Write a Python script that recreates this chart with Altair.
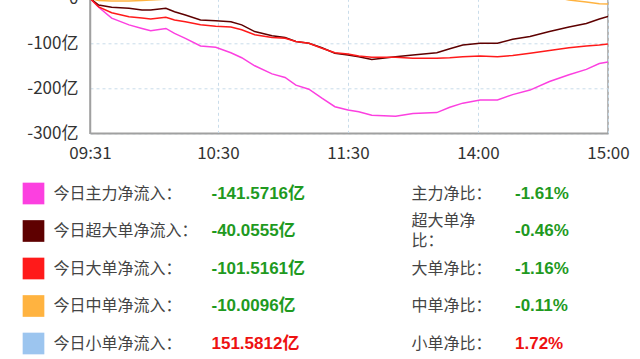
import altair as alt
import pandas as pd

# ---- data ----
minutes = [0, 4, 10, 18, 24, 28, 35, 39, 44, 51, 58, 65, 70, 76, 84, 90, 95, 101, 107,
           113, 119, 124, 130, 141, 149, 160, 166, 172, 180, 188, 195, 203, 212, 221,
           229, 235, 239]
main_flow = [0, -20, -44, -59, -67, -72, -67, -78, -89, -106, -109, -121, -132, -150, -168,
             -176, -193, -202, -222, -241, -248, -252, -260, -262, -256, -254, -242, -233,
             -226, -226, -214, -204, -185, -170, -158, -145, -141.6]
super_flow = [0, -15, -20, -22, -26, -26, -22, -30, -37, -48, -50, -52, -59, -74, -83, -87,
              -96, -100, -110, -122, -126, -130, -136, -130, -126, -121, -112, -104, -100,
              -100, -91, -85, -74, -64, -56, -46, -40.1]
large_flow = [0, -19, -32, -41, -44, -46, -42, -48, -52, -59, -62, -64, -70, -81, -87, -89,
              -96, -100, -111, -121, -124, -128, -131, -131, -133, -133, -132, -130, -128,
              -130, -127, -122, -116, -110, -106, -104, -101.5]
medium_flow = [0, -5, -6, -6, -5, -4, -2, 0, 3, 6, 10, 12, 14, 15, 16, 17, 18, 18, 18, 18,
               18, 18, 18, 18, 18, 18, 17, 16, 15, 14, 12, 10, 6, -4, -8, -12, -12.5]

tick_minutes = [0, 59, 119, 179, 239]
tick_labels = ["09:31", "10:30", "11:30", "14:00", "15:00"]
y_ticks = [-300, -200, -100, 0]

series_names = ["主力", "超大单", "大单", "中单", "小单"]
series_colors = ["#fc40e0", "#5e0000", "#ff1a1a", "#ffb340", "#9cc5ef"]

row_labels = ["今日主力净流入：", "今日超大单净流入：", "今日大单净流入：",
              "今日中单净流入：", "今日小单净流入："]
row_values = [-141.5716, -40.0555, -101.5161, -10.0096, 151.5812]
ratio_labels = ["主力净比：", "超大单净\n比：", "大单净比：", "中单净比：", "小单净比："]
ratio_values = [-1.61, -0.46, -1.16, -0.11, 1.72]

# ---- tables ----
line_rows = []
for name, vals in zip(series_names[:4], [main_flow, super_flow, large_flow, medium_flow]):
    for m, v in zip(minutes, vals):
        line_rows.append({"series": name, "minute": m, "value": v})
line_df = pd.DataFrame(line_rows)

table_df = pd.DataFrame({
    "row": list(range(5)),
    "series": series_names,
    "label": row_labels,
    "num": row_values,
    "rlabel": ratio_labels,
    "ratio": ratio_values,
})

GREEN = "#1f9a1f"
RED = "#ee1111"
CJK = "Noto Sans CJK SC"

label_expr = " : ".join(
    f"datum.value == {m} ? '{t}'" for m, t in zip(tick_minutes, tick_labels)
) + " : ''"

color_scale = alt.Scale(domain=series_names, range=series_colors)

lines = alt.Chart(line_df).mark_line(strokeWidth=1.5, clip=True).encode(
    x=alt.X("minute:Q", scale=alt.Scale(domain=[0, 239], nice=False, zero=False),
            axis=alt.Axis(values=tick_minutes, labelExpr=label_expr, title=None,
                          ticks=False, labelPadding=12, labelFontSize=17,
                          labelFont=CJK, labelColor="#333", domainColor="#a0a0a0",
                          domainWidth=1.5, gridColor="#c9dcea", gridDash=[3, 3],
                          labelOverlap=False, labelFlush=False)),
    y=alt.Y("value:Q", scale=alt.Scale(domain=[-300, 0], nice=False),
            axis=alt.Axis(values=y_ticks, title=None, ticks=False, labelPadding=12,
                          labelExpr="datum.value == 0 ? '0' : datum.value + '亿'",
                          labelFontSize=17, labelFont=CJK, labelColor="#333",
                          domainColor="#a0a0a0", domainWidth=1.5,
                          gridColor="#c9dcea", gridDash=[3, 3])),
    color=alt.Color("series:N", scale=color_scale, legend=None),
    detail="series:N",
)

row_y = alt.Y("row:Q", scale=alt.Scale(domain=[0, 4], range=[195.2, 345.2], nice=False,
                                       zero=False), axis=None)

base = alt.Chart(table_df)
squares = base.mark_square(size=470, opacity=1).encode(
    x=alt.value(-56.5), y=row_y,
    color=alt.Color("series:N", scale=color_scale, legend=None),
)
labels = base.mark_text(align="left", baseline="middle", font=CJK, fontSize=16,
                        color="#444").encode(x=alt.value(-36.5), y=row_y, text="label:N")
values = base.transform_calculate(
    vtxt="(datum.num < 0 ? '-' : '') + format(abs(datum.num), '.4f') + '亿'"
).mark_text(align="left", baseline="middle", font="Liberation Sans, Noto Sans CJK SC",
            fontSize=17, fontWeight="bold").encode(
    x=alt.value(121.5), y=row_y, text="vtxt:N",
    color=alt.condition("datum.num < 0", alt.value(GREEN), alt.value(RED)),
)
rlabels_single = base.transform_filter(
    "indexof(datum.rlabel, '\\n') < 0"
).mark_text(align="left", baseline="middle", font=CJK, fontSize=16,
            color="#444").encode(x=alt.value(321.5), y=row_y, text="rlabel:N")
rlabels_multi = base.transform_filter(
    "indexof(datum.rlabel, '\\n') >= 0"
).transform_calculate(
    parts="split(datum.rlabel, '\\n')"
).mark_text(align="left", baseline="middle", font=CJK, fontSize=16, color="#444",
            lineHeight=20, dy=-10).encode(x=alt.value(321.5), y=row_y, text="parts:N")
rvalues = base.transform_calculate(
    rtxt="(datum.ratio < 0 ? '-' : '') + format(abs(datum.ratio), '.2f') + '%'"
).mark_text(align="left", baseline="middle", font="Liberation Sans", fontSize=17,
            fontWeight="bold").encode(
    x=alt.value(425), y=row_y, text="rtxt:N",
    color=alt.condition("datum.ratio < 0", alt.value(GREEN), alt.value(RED)),
)

chart = alt.layer(lines, squares, labels, values, rlabels_single, rlabels_multi,
                  rvalues).resolve_scale(
    y="independent"
).properties(
    width=518, height=135,
    autosize=alt.AutoSizeParams(type="none"),
    padding={"left": 90, "top": -1.7, "right": 32, "bottom": 225.7},
    background="white",
).configure_view(stroke="#a0a0a0", strokeWidth=1.5)

chart.save("out.html", embed_options={"renderer": "svg", "actions": False})
